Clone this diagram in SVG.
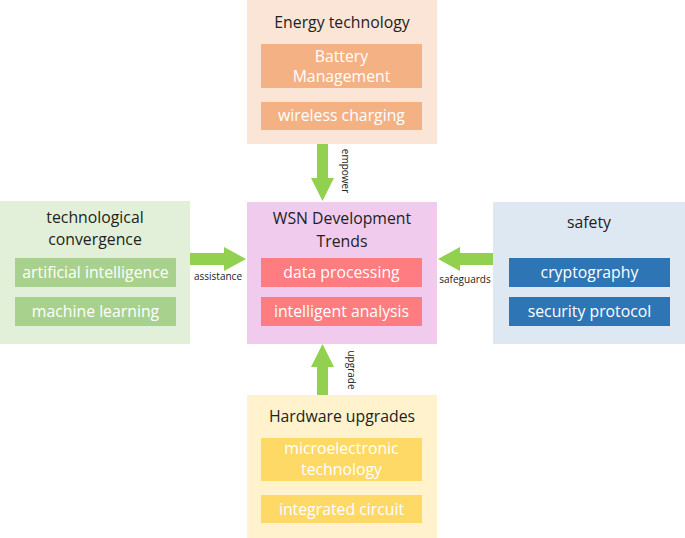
<svg xmlns="http://www.w3.org/2000/svg" width="685" height="538" viewBox="0 0 685 538">
<style>
text{font-family:"Open Sans","Liberation Sans",sans-serif;text-anchor:middle}
.t{font-size:15.8px;fill:#222}
.i{font-size:15.8px;fill:#fff}
.l{font-size:10px;fill:#222}
.arrow{fill:#92D050}
</style>
<rect width="685" height="538" fill="#fff"/>
<g id="energy">
<rect x="247" y="0" width="190" height="144" fill="#FBE5D6"/>
<text class="t" x="342" y="28">Energy technology</text>
<rect x="261" y="44" width="161" height="44" fill="#F4B183"/>
<text class="i" x="341.5" y="62">Battery</text>
<text class="i" x="341.5" y="82">Management</text>
<rect x="261" y="102" width="161" height="28" fill="#F4B183"/>
<text class="i" x="341.5" y="121">wireless charging</text>
</g>
<g id="convergence">
<rect x="0" y="201" width="190" height="143" fill="#E2F0D9"/>
<text class="t" x="95" y="223">technological</text>
<text class="t" x="95" y="245">convergence</text>
<rect x="15" y="258" width="161" height="29" fill="#A9D18E"/>
<text class="i" x="95.5" y="278">artificial intelligence</text>
<rect x="15" y="297" width="161" height="29" fill="#A9D18E"/>
<text class="i" x="95.5" y="317">machine learning</text>
</g>
<g id="wsn">
<rect x="247" y="202" width="190" height="142" fill="#F0CBEE"/>
<text class="t" x="342" y="224">WSN Development</text>
<text class="t" x="342" y="247">Trends</text>
<rect x="261" y="258" width="161" height="29" fill="#FF7C80"/>
<text class="i" x="341.5" y="278">data processing</text>
<rect x="261" y="297" width="161" height="29" fill="#FF7C80"/>
<text class="i" x="341.5" y="317">intelligent analysis</text>
</g>
<g id="safety">
<rect x="493" y="202" width="192" height="142" fill="#DEE8F2"/>
<text class="t" x="589" y="228">safety</text>
<rect x="509" y="258" width="161" height="29" fill="#2E75B6"/>
<text class="i" x="589.5" y="278">cryptography</text>
<rect x="509" y="297" width="161" height="29" fill="#2E75B6"/>
<text class="i" x="589.5" y="317">security protocol</text>
</g>
<g id="hardware">
<rect x="247" y="395" width="190" height="143" fill="#FFF2CC"/>
<text class="t" x="342" y="422">Hardware upgrades</text>
<rect x="261" y="438" width="161" height="43" fill="#FFD966"/>
<text class="i" x="341.5" y="454">microelectronic</text>
<text class="i" x="341.5" y="475">technology</text>
<rect x="261" y="495" width="161" height="28" fill="#FFD966"/>
<text class="i" x="341.5" y="515">integrated circuit</text>
</g>
<g id="connectors">
<polygon class="arrow" points="317,144 328,144 328,178 334,178 322.5,201 311,178 317,178"/>
<text class="l" transform="translate(342,171) rotate(90)">empower</text>
<polygon class="arrow" points="190,253 224,253 224,247 246,259 224,271 224,265 190,265"/>
<text class="l" x="218" y="280">assistance</text>
<polygon class="arrow" points="493,253 460,253 460,247 438,259 460,271 460,265 493,265"/>
<text class="l" x="465" y="283">safeguards</text>
<polygon class="arrow" points="317,395 328,395 328,367 334,367 322.5,344 311,367 317,367"/>
<text class="l" transform="translate(348,370) rotate(90)">upgrade</text>
</g>
</svg>
